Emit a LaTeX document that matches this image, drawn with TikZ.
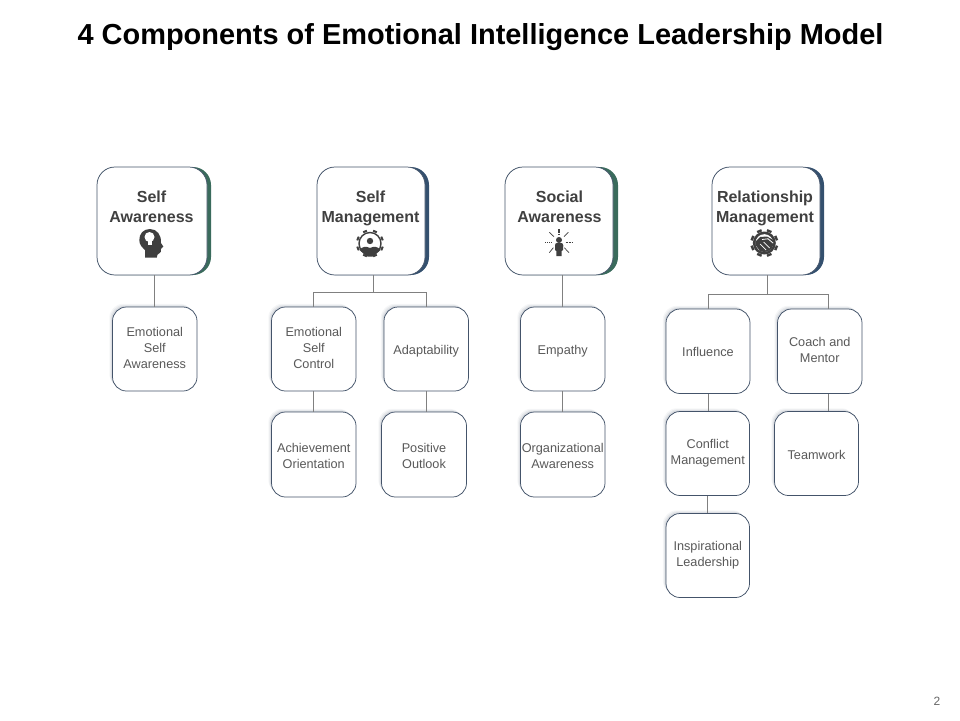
\documentclass[tikz,border=0pt]{standalone}
\usepackage{fontspec}
\setmainfont{Liberation Sans}
\definecolor{grn}{HTML}{3A6B5C}
\definecolor{blu}{HTML}{34506E}
\definecolor{edge}{HTML}{44546A}
\definecolor{icon}{HTML}{3F3F3F}
\newcommand{\upst}{\rule{0pt}{14pt}}
\newcommand{\dnst}{\rule[-2.8pt]{0pt}{2.8pt}}
\newcommand{\lowr}{\rule{0pt}{15.5pt}}
\tikzset{
  x=1pt,y=-1pt,
  softshadow/.style={preaction={draw=none,fill=edge,opacity=.05,transform canvas={shift={(-3.2pt,3.2pt)}}},
                     preaction={draw=none,fill=edge,opacity=.08,transform canvas={shift={(-2.2pt,2.2pt)}}},
                     preaction={draw=none,fill=edge,opacity=.10,transform canvas={shift={(-1.2pt,1.2pt)}}}},
  child box/.style={draw=edge,line width=.75pt,fill=white,rounded corners=14pt,inner sep=0pt,align=center,
     font=\fontsize{12.7}{16}\selectfont,text=black!65,softshadow,
     execute at begin node=\upst,execute at end node=\dnst},
  head box/.style={draw=edge,line width=.75pt,fill=white,rounded corners=18pt,inner sep=0pt},
  back box/.style={rounded corners=18pt,inner sep=0pt,draw=none},
  head text/.style={align=center,inner sep=0pt,font=\fontsize{16}{19.5}\selectfont\bfseries,text=black!75,
     execute at begin node=\strut,execute at end node=\strut},
  link/.style={draw=black!50,line width=.8pt},
  ray/.style={draw=icon,line width=.7pt},
}
\newcommand{\cbox}[6]{\node[child box,minimum width=#3-#2,minimum height=#5-#4] (#1) at ({(#2+#3)/2},{(#4+#5)/2}) {#6};}
\newcommand{\headbox}[7]{% name x0 x1 xb text-offset colour text
  \node[back box,fill=#6,minimum width=#4-#2,minimum height=108] (#1b) at ({(#2+#4)/2},221) {};
  \node[head box,minimum width=#3-#2,minimum height=108] (#1) at ({(#2+#3)/2},221) {};
  \node[head text] (#1t) at ({(#2+#3)/2+#5},209.5) {#7};}
\newcommand{\gearteeth}[4]{% cx cy r toothsize
  \foreach \a in {0,45,...,315}{
    \fill[icon,shift={(#1,#2)},rotate=\a+22.5] (#3-#4,-#4) rectangle (#3,#4);
  }}
\begin{document}
\begin{tikzpicture}
\useasboundingbox (0,0) rectangle (960,720);
\node[inner sep=0pt,font=\fontsize{28.95}{32}\selectfont\bfseries] (title) at (480.5,37) {4 Components of Emotional Intelligence Leadership Model};
\node[inner sep=0pt,font=\fontsize{12}{14}\selectfont,text=black!60] (page) at (937,701) {2};

\headbox{h1}{97}{207}{211}{-0.5}{grn}{Self\\Awareness}
\headbox{h2}{317}{425}{429}{-0.5}{blu}{Self\\Management}
\headbox{h3}{505}{613}{618}{0.5}{grn}{Social\\Awareness}
\headbox{h4}{712}{820}{824}{-1}{blu}{Relationship\\Management}

\cbox{a1}{112.5}{197}{307}{391}{Emotional\\Self\\Awareness}
\cbox{b1}{271.5}{356}{307}{391}{Emotional\\Self\\Control}
\cbox{b2}{384}{468.5}{307}{391}{Adaptability}
\cbox{b3}{271.5}{356}{412}{497}{\lowr Achievement\\Orientation}
\cbox{b4}{381.5}{466.5}{412}{497}{\lowr Positive\\Outlook}
\cbox{c1}{520.5}{605}{307}{391}{Empathy}
\cbox{c2}{520.5}{605}{412}{497}{\lowr Organizational\\Awareness}
\cbox{d1}{666}{750}{309}{393.5}{Influence}
\cbox{d2}{777.5}{862}{309}{393.5}{Coach and\\Mentor}
\cbox{d3}{666}{749.5}{411.5}{495.5}{Conflict\\Management}
\cbox{d4}{774.5}{858.5}{411.5}{495.5}{Teamwork}
\cbox{d5}{666}{749.5}{513.5}{597.5}{Inspirational\\Leadership}

% connector anchors
\coordinate (t1) at ([xshift=2.5pt]h1.south);
\coordinate (t2) at ([xshift=2pt]h2.south);
\coordinate (t3) at ([xshift=3pt]h3.south);
\coordinate (t4) at ([xshift=1.5pt]h4.south);
\coordinate (bus2) at ([yshift=-17pt]t2);
\coordinate (bus4) at ([yshift=-19pt]t4);
\coordinate (d2x) at ([xshift=8.25pt]d2.south);
\coordinate (d2y) at ([xshift=8.25pt]d2.north);

\draw[link] (t1) -- (t1 |- a1.north);
\draw[link] (t2) -- (bus2);
\draw[link] (b1.north) |- (bus2) -| (b2.north);
\draw[link] (b1.south) -- (b1.south |- b3.north);
\draw[link] (b2.south) -- (b2.south |- b4.north);
\draw[link] (t3) -- (t3 |- c1.north);
\draw[link] (c1.south) -- (c1.south |- c2.north);
\draw[link] (t4) -- (bus4);
\draw[link] (d1.north) |- (bus4) -| (d2y);
\draw[link] (d1.south) -- (d1.south |- d3.north);
\draw[link] (d2x) -- (d2x |- d4.north);
\draw[link] (d3.south) -- (d3.south |- d5.north);

% icon: head with bulb
\fill[icon] (145,257.7) -- (156.7,257.7) .. controls (157,255) and (157.5,254) .. (159.3,253.3)
  .. controls (161,253) and (161,251) .. (161,249) -- (163.3,246.5) -- (161,243)
  .. controls (161.5,235) and (157,229) .. (150,229)
  .. controls (143,229) and (139.3,234) .. (139.3,240)
  .. controls (139.3,245) and (142,247) .. (145,250) -- cycle;
\fill[white] (149.5,237) circle (5);
\fill[white] (147.5,240) rectangle (151.5,245);

% icon: gear with person
\draw[icon,line width=1.4pt] (370,243.5) circle (11);
\gearteeth{370}{243.5}{14}{2}
\fill[icon] (370,241) circle (3.2);
\fill[icon] (359.5,250) .. controls (362,246.5) and (366,246) .. (370,248)
  .. controls (374,246) and (378,246.5) .. (380.5,250)
  -- (376,254) -- (372.5,256.5) -- (367.5,256.5) -- (364,254) -- cycle;

% icon: person with rays
\fill[icon] (559,240) circle (3);
\fill[icon] (555,245.5) .. controls (555,243.5) and (556,243) .. (557,243) -- (561,243)
  .. controls (562,243) and (563.3,243.5) .. (563.3,245.5) -- (563,250) -- (561.7,251) -- (561.7,256) -- (556.3,256) -- (556.3,251) -- (555,250) -- cycle;
\draw[ray,line width=1.2pt,dash pattern=on 1.5pt off .8pt] (559,229) -- (559,234.3);
\draw[ray] (549.3,232.3) -- (554,236.7);
\draw[ray] (568.3,232.3) -- (564,236.7);
\draw[ray,dash pattern=on 1pt off 1pt] (545,242.3) -- (552.7,242.3);
\draw[ray,dash pattern=on 2pt off 1pt] (565.7,242.3) -- (572.7,242.3);
\draw[ray] (549.3,252.7) -- (553.3,247.7);
\draw[ray] (569,252.7) -- (564.3,247.7);

% icon: gear with handshake
\fill[icon] (764.3,243) circle (11.5);
\gearteeth{764.3}{243}{14}{2.4}
\fill[white] (764.3,243) circle (8.8);
\begin{scope}
\clip (764.3,243) circle (9);
\fill[icon] (754,243) -- (760,237) -- (767,236.5) -- (775,241) -- (775,250) -- (768,254) -- (760,251) -- cycle;
\draw[white,line width=.8pt] (762,239.5) -- (768,238.8) -- (773,243);
\draw[white,line width=.7pt] (760,244) -- (766,250);
\draw[white,line width=.7pt] (763.5,242) -- (769.5,248);
\end{scope}
\end{tikzpicture}
\end{document}
